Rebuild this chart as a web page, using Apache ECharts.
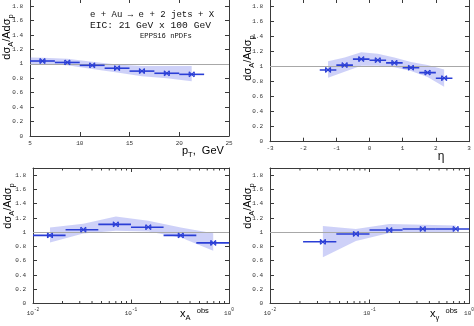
<!DOCTYPE html>
<html>
<head>
<meta charset="utf-8">
<script src="https://cdn.jsdelivr.net/npm/echarts@6/dist/echarts.min.js"></script>
<style>
html, body { margin: 0; padding: 0; background: #fff; }
#chart { width: 474px; height: 326px; }
</style>
</head>
<body>
<div id="chart"></div>
<script>
// ---- p_T panel ----
const ptLow = [5, 7.5, 10, 12.5, 15, 17.5, 20];
const ptHigh = [7.5, 10, 12.5, 15, 17.5, 20, 22.5];
const ptMid = [6.25, 8.75, 11.25, 13.75, 16.25, 18.75, 21.25];
const ptRatio = [1.04, 1.02, 0.98, 0.94, 0.90, 0.87, 0.855];
const ptBandX = [5, 6.25, 8.75, 11.25, 13.75, 16.25, 18.75, 21.25];
const ptBandHi = [1.09, 1.085, 1.07, 1.03, 0.99, 0.97, 0.97, 0.97];
const ptBandLo = [1.0, 1.0, 0.98, 0.93, 0.88, 0.83, 0.80, 0.76];

// ---- eta panel ----
const etaLow = [-1.5, -1, -0.5, 0, 0.5, 1, 1.5, 2];
const etaHigh = [-1, -0.5, 0, 0.5, 1, 1.5, 2, 2.5];
const etaMid = [-1.25, -0.75, -0.25, 0.25, 0.75, 1.25, 1.75, 2.25];
const etaRatio = [0.955, 1.02, 1.10, 1.085, 1.05, 0.985, 0.92, 0.845];
const etaBandHi = [1.07, 1.12, 1.19, 1.17, 1.12, 1.06, 1.02, 0.96];
const etaBandLo = [0.85, 0.93, 1.01, 1.01, 0.99, 0.94, 0.86, 0.73];

// ---- x_A^obs panel ----
const xaLow = [0.01, 0.0215, 0.0464, 0.1, 0.215, 0.464];
const xaHigh = [0.0215, 0.0464, 0.1, 0.215, 0.464, 1];
const xaMid = [0.0149, 0.0326, 0.070, 0.150, 0.322, 0.69];
const xaRatio = [0.955, 1.035, 1.11, 1.07, 0.955, 0.85];
const xaBandHi = [1.065, 1.12, 1.22, 1.16, 1.065, 0.985];
const xaBandLo = [0.855, 0.98, 1.02, 1.01, 0.925, 0.74];

// ---- x_gamma^obs panel ----
const xgLow = [0.0215, 0.0464, 0.1, 0.215, 0.464];
const xgHigh = [0.0464, 0.1, 0.215, 0.464, 1];
const xgMid = [0.034, 0.073, 0.158, 0.343, 0.735];
const xgRatio = [0.865, 0.975, 1.03, 1.045, 1.045];
const xgBandHi = [1.085, 1.045, 1.115, 1.105, 1.095];
const xgBandLo = [0.65, 0.875, 0.99, 1.0, 0.99];

// axis tick values
const ptTicks = [5, 10, 15, 20, 25];
const etaTicks = [-3, -2, -1, 0, 1, 2, 3];
const logMinorTicks = [0.02, 0.03, 0.04, 0.05, 0.06, 0.07, 0.08, 0.09,
                       0.2, 0.3, 0.4, 0.5, 0.6, 0.7, 0.8, 0.9];
const yMin = 0, yMax = 1.9, yStep = 0.2;

const BLUE = '#2a3ed6';
const BAND = 'rgba(105,115,235,0.33)';
const FRAME = '#3a3a3a';
const TICKFONT = 'Liberation Mono';
const TITLEFONT = 'Liberation Sans';

const grids = [
  { left: 30, top: -1, width: 199, height: 137 },
  { left: 270, top: -1, width: 199, height: 142.7 },
  { left: 33, top: 168, width: 196, height: 135.5 },
  { left: 270, top: 168, width: 199, height: 135.5 }
];

function logLabel(v) {
  const e = Math.round(Math.log10(v));
  return '{b|10}{e|' + e + '}';
}
const logRich = {
  b: { fontSize: 6, fontFamily: TICKFONT, color: '#333', lineHeight: 9, verticalAlign: 'bottom' },
  e: { fontSize: 4.5, fontFamily: TICKFONT, color: '#333', lineHeight: 9, verticalAlign: 'top' }
};

function xAxisPair(gi, isLog, min, max, interval) {
  const base = {
    gridIndex: gi,
    type: isLog ? 'log' : 'value',
    min: min, max: max,
    axisLine: { show: true, onZero: false, lineStyle: { color: FRAME, width: 1 } },
    axisTick: { show: true, inside: true, length: 4, lineStyle: { color: FRAME } },
    splitLine: { show: false }
  };
  if (isLog) base.logBase = 10; else base.interval = interval;
  const bottom = Object.assign({}, base, {
    position: 'bottom',
    axisLabel: isLog
      ? { show: true, margin: 4, formatter: logLabel, rich: logRich }
      : { show: true, margin: 4, fontSize: 6, fontFamily: TICKFONT, color: '#333' }
  });
  const top = Object.assign({}, base, { position: 'top', axisLabel: { show: false } });
  return [bottom, top];
}

function yAxisPair(gi) {
  const base = {
    gridIndex: gi, type: 'value', min: yMin, max: yMax, interval: yStep,
    axisLine: { show: true, onZero: false, lineStyle: { color: FRAME, width: 1 } },
    axisTick: { show: true, inside: true, length: 4, lineStyle: { color: FRAME } },
    splitLine: { show: false }
  };
  const left = Object.assign({}, base, {
    position: 'left',
    axisLabel: {
      show: true, margin: 7, fontSize: 6, fontFamily: TICKFONT, color: '#333',
      formatter: function (v) { return v > 1.85 ? '' : String(Math.round(v * 10) / 10); }
    }
  });
  const right = Object.assign({}, base, { position: 'right', axisLabel: { show: false } });
  return [left, right];
}

const xAxes = [].concat(
  xAxisPair(0, false, 5, 25, 5),
  xAxisPair(1, false, -3, 3, 1),
  xAxisPair(2, true, 0.01, 1),
  xAxisPair(3, true, 0.01, 1)
);
const yAxes = [].concat(yAxisPair(0), yAxisPair(1), yAxisPair(2), yAxisPair(3));

// horizontal bin bars with point markers
function binBars(gi, mid, ratio, low, high) {
  return {
    type: 'custom',
    xAxisIndex: gi * 2, yAxisIndex: gi * 2,
    clip: true, z: 5,
    data: mid.map(function (m, i) { return [m, ratio[i], low[i], high[i]]; }),
    renderItem: function (params, api) {
      const y = api.value(1);
      const a = api.coord([api.value(2), y]);
      const b = api.coord([api.value(3), y]);
      const c = api.coord([api.value(0), y]);
      const s = 2.5;
      return {
        type: 'group',
        children: [
          { type: 'line', shape: { x1: a[0], y1: a[1], x2: b[0], y2: b[1] },
            style: { stroke: BLUE, lineWidth: 1.6 } },
          { type: 'line', shape: { x1: c[0] - s, y1: c[1] - s, x2: c[0] + s, y2: c[1] + s },
            style: { stroke: BLUE, lineWidth: 1.1 } },
          { type: 'line', shape: { x1: c[0] - s, y1: c[1] + s, x2: c[0] + s, y2: c[1] - s },
            style: { stroke: BLUE, lineWidth: 1.1 } },
          { type: 'line', shape: { x1: c[0] - s, y1: c[1] - s, x2: c[0] - s, y2: c[1] + s },
            style: { stroke: BLUE, lineWidth: 1.1 } },
          { type: 'line', shape: { x1: c[0] + s, y1: c[1] - s, x2: c[0] + s, y2: c[1] + s },
            style: { stroke: BLUE, lineWidth: 1.1 } }
        ]
      };
    }
  };
}

// shaded nPDF uncertainty band, drawn as one polygon
function band(gi, xs, hi, lo) {
  return {
    type: 'custom',
    xAxisIndex: gi * 2, yAxisIndex: gi * 2,
    clip: true, z: 2,
    data: xs.map(function (x, i) { return [x, lo[i], hi[i]]; }),
    renderItem: function (params, api) {
      if (params.dataIndex !== 0) return null;
      const pts = [];
      for (let i = 0; i < xs.length; i++) pts.push(api.coord([xs[i], hi[i]]));
      for (let i = xs.length - 1; i >= 0; i--) pts.push(api.coord([xs[i], lo[i]]));
      return { type: 'polygon', shape: { points: pts }, style: { fill: BAND } };
    },
    markLine: {
      silent: true, symbol: 'none', animation: false,
      label: { show: false },
      lineStyle: { color: '#a8a8a8', type: 'solid', width: 1 },
      data: [{ yAxis: 1 }]
    }
  };
}

// minor ticks of the logarithmic axes (2..9 x 10^k), bottom and top edges
function logMinor(gi) {
  return {
    type: 'custom',
    xAxisIndex: gi * 2, yAxisIndex: gi * 2,
    clip: false, z: 6, silent: true,
    data: logMinorTicks.map(function (v) { return [v]; }),
    renderItem: function (params, api) {
      const b = api.coord([api.value(0), yMin]);
      const t = api.coord([api.value(0), yMax]);
      return {
        type: 'group',
        children: [
          { type: 'line', shape: { x1: b[0], y1: b[1], x2: b[0], y2: b[1] - 2.5 },
            style: { stroke: FRAME, lineWidth: 1 } },
          { type: 'line', shape: { x1: t[0], y1: t[1], x2: t[0], y2: t[1] + 2.5 },
            style: { stroke: FRAME, lineWidth: 1 } }
        ]
      };
    }
  };
}

const series = [
  band(0, ptBandX, ptBandHi, ptBandLo),
  binBars(0, ptMid, ptRatio, ptLow, ptHigh),
  band(1, etaMid, etaBandHi, etaBandLo),
  binBars(1, etaMid, etaRatio, etaLow, etaHigh),
  band(2, xaMid, xaBandHi, xaBandLo),
  binBars(2, xaMid, xaRatio, xaLow, xaHigh),
  logMinor(2),
  band(3, xgMid, xgBandHi, xgBandLo),
  binBars(3, xgMid, xgRatio, xgLow, xgHigh),
  logMinor(3)
];

const titleRich = {
  m: { fontSize: 11, fontFamily: TITLEFONT, color: '#111', lineHeight: 15, verticalAlign: 'middle' },
  s: { fontSize: 7.5, fontFamily: TITLEFONT, color: '#111', lineHeight: 15, verticalAlign: 'bottom' },
  u: { fontSize: 7.5, fontFamily: TITLEFONT, color: '#111', lineHeight: 15, verticalAlign: 'top' }
};
const yTitleText = '{m|dσ}{s|A}{m|/Adσ}{s|p}';

function yTitle(x, y) {
  return {
    type: 'text', x: x, y: y, rotation: Math.PI / 2, z: 10,
    style: { text: yTitleText, rich: titleRich, align: 'center', verticalAlign: 'middle' }
  };
}

const graphics = [
  yTitle(7, 37), yTitle(248, 58), yTitle(8, 206), yTitle(248, 206),
  { type: 'text', x: 182, y: 151, z: 10,
    style: { text: '{m|p}{s|T}{m|,  GeV}', rich: titleRich, align: 'left', verticalAlign: 'middle' } },
  { type: 'text', x: 441, y: 157, z: 10,
    style: { text: 'η', fontSize: 12, fontFamily: TITLEFONT, fill: '#111', align: 'center', verticalAlign: 'middle' } },
  { type: 'text', x: 180, y: 314, z: 10,
    style: { text: '{m|x}{s|A}{u|   obs}', rich: titleRich, align: 'left', verticalAlign: 'middle' } },
  { type: 'text', x: 430, y: 314, z: 10,
    style: { text: '{m|x}{s|γ}{u|   obs}', rich: titleRich, align: 'left', verticalAlign: 'middle' } },
  { type: 'text', x: 90, y: 15, z: 10,
    style: { text: 'e + Au → e + 2 jets + X', fontSize: 9, fontFamily: TICKFONT, fill: '#111', align: 'left', verticalAlign: 'middle' } },
  { type: 'text', x: 90, y: 25, z: 10,
    style: { text: 'EIC: 21 GeV x 100 GeV', fontSize: 9.6, fontFamily: TICKFONT, fill: '#111', align: 'left', verticalAlign: 'middle' } },
  { type: 'text', x: 140, y: 36.5, z: 10,
    style: { text: 'EPPS16 nPDFs', fontSize: 7.2, fontFamily: TICKFONT, fill: '#111', align: 'left', verticalAlign: 'middle' } }
];

const chart = echarts.init(document.getElementById('chart'), null, { renderer: 'canvas' });
chart.setOption({
  animation: false,
  backgroundColor: '#fff',
  grid: grids.map(function (g) {
    return Object.assign({ containLabel: false, outerBoundsMode: 'none' }, g);
  }),
  xAxis: xAxes,
  yAxis: yAxes,
  series: series,
  graphic: graphics
});
</script>
</body>
</html>
